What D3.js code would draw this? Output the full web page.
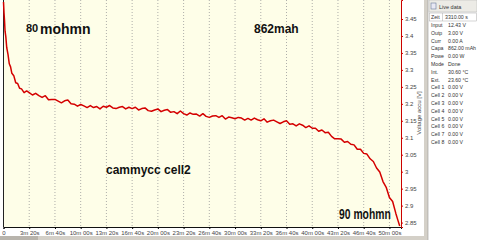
<!DOCTYPE html>
<html>
<head>
<meta charset="utf-8">
<script src="https://cdn.jsdelivr.net/npm/d3@7"></script>
<style>
  body { margin: 0; background: #fff; }
  svg { display: block; font-family: "Liberation Sans", Arial, sans-serif; }
</style>
</head>
<body>
<svg width="477" height="240"></svg>
<script>
// time in seconds, voltage in V
const times = [0, 4, 8, 12, 18, 25, 35, 45, 55, 65, 80, 95, 110, 125, 140, 160, 180, 200,
  225, 250, 275, 300, 325, 350, 375, 400, 425, 450, 475, 500, 525, 550, 575, 600, 625, 650, 675,
  700, 725, 750, 775, 800, 825, 850, 875, 900, 925, 950, 975, 1000, 1025, 1050, 1075, 1100,
  1125, 1150, 1175, 1200, 1225, 1250, 1275, 1300, 1325, 1350, 1375, 1400, 1425, 1450, 1475,
  1500, 1525, 1550, 1575, 1600, 1625, 1650, 1675, 1700, 1725, 1750, 1775, 1800, 1825, 1850,
  1875, 1900, 1925, 1950, 1975, 2000, 2025, 2050, 2075, 2100, 2125, 2150, 2175, 2200, 2225,
  2250, 2275, 2300, 2325, 2350, 2375, 2400, 2425, 2450, 2475, 2500, 2525, 2550, 2575, 2600,
  2625, 2650, 2675, 2700, 2725, 2750, 2775, 2800, 2825, 2850, 2875, 2900, 2925, 2950, 2975,
  3000, 3025, 3050, 3065, 3080];
const volts = [3.500, 3.468, 3.445, 3.414, 3.398, 3.366, 3.346, 3.318, 3.309, 3.290, 3.283, 3.262,
  3.260, 3.246, 3.244, 3.233, 3.238, 3.233,
  3.226, 3.231, 3.224, 3.219, 3.224, 3.212, 3.213, 3.213, 3.208, 3.203, 3.209, 3.211, 3.200,
  3.199, 3.193, 3.198, 3.194, 3.189, 3.195,
  3.189, 3.192, 3.185, 3.193, 3.190, 3.195, 3.188, 3.186, 3.190, 3.192, 3.185, 3.190, 3.186,
  3.190, 3.182, 3.186, 3.188,
  3.180, 3.178, 3.182, 3.185, 3.177, 3.181, 3.183, 3.175, 3.177, 3.171, 3.179, 3.171, 3.167,
  3.173, 3.169,
  3.170, 3.164, 3.171, 3.163, 3.160, 3.164, 3.165, 3.160, 3.165, 3.155, 3.161, 3.159, 3.156,
  3.160, 3.158,
  3.152, 3.157, 3.152, 3.158, 3.153, 3.150, 3.156, 3.146, 3.150, 3.152, 3.147, 3.142, 3.147,
  3.150, 3.140,
  3.141, 3.135, 3.141, 3.137, 3.130, 3.135, 3.128, 3.128, 3.119, 3.123, 3.115, 3.116, 3.104,
  3.097, 3.097,
  3.096, 3.087, 3.089, 3.081, 3.079, 3.066, 3.066, 3.054, 3.052, 3.038, 3.030, 3.011, 2.999,
  2.971, 2.954,
  2.924, 2.912, 2.877, 2.858, 2.840];

const timeTicks = [0, 200, 400, 600, 800, 1000, 1200, 1400, 1600, 1800, 2000, 2200, 2400, 2600, 2800, 3000];
const voltTicks = [2.85, 2.9, 2.95, 3, 3.05, 3.1, 3.15, 3.2, 3.25, 3.3, 3.35, 3.4, 3.45];

const liveLabels = ["Input", "Outp", "Curr", "Capa", "Powe", "Mode", "Int.", "Ext.",
  "Cell 1", "Cell 2", "Cell 3", "Cell 4", "Cell 5", "Cell 6", "Cell 7", "Cell 8"];
const liveValues = ["12.43 V", "3.00 V", "0.00 A", "862.00 mAh", "0.00 W", "Done", "30.60 °C", "23.60 °C",
  "0.00 V", "0.00 V", "0.00 V", "0.00 V", "0.00 V", "0.00 V", "0.00 V", "0.00 V"];

const svg = d3.select("svg");

const x = d3.scaleLinear().domain([0, 3090]).range([3.5, 401]);
const y = d3.scaleLinear().domain([2.837, 3.506]).range([227, 0]);

// plot background
svg.append("rect")
  .attr("x", x(0)).attr("y", 0)
  .attr("width", x(3090) - x(0)).attr("height", 227)
  .attr("fill", "#fefee8");

// vertical dotted grid
svg.selectAll(".grid")
  .data(timeTicks.slice(1))
  .enter().append("line")
  .attr("x1", d => x(d)).attr("x2", d => x(d))
  .attr("y1", 0).attr("y2", 227)
  .attr("stroke", "#999")
  .attr("stroke-width", 0.8)
  .attr("stroke-dasharray", "1,2");

function fmtTime(s) {
  if (s === 0) return "0";
  const m = Math.floor(s / 60), r = s % 60;
  return m + "m " + String(r).padStart(2, "0") + "s";
}

// bottom axis
const xAxis = svg.append("g")
  .attr("transform", "translate(0,227)")
  .call(d3.axisBottom(x).tickValues(timeTicks).tickFormat(fmtTime).tickSize(2).tickPadding(2));
xAxis.select(".domain").attr("stroke", "#111");
xAxis.selectAll("text").attr("font-size", 6).attr("fill", "#444").attr("font-family", "Liberation Sans, Arial");

// left axis line
svg.append("line")
  .attr("x1", x(0)).attr("x2", x(0)).attr("y1", 0).attr("y2", 227)
  .attr("stroke", "#222").attr("stroke-width", 1);

// right voltage axis
const yAxis = svg.append("g")
  .attr("transform", `translate(${x(3090)},0)`)
  .call(d3.axisRight(y).tickValues(voltTicks).tickFormat(d3.format("~g")).tickSize(2).tickPadding(2));
yAxis.select(".domain").attr("stroke", "#cc0000");
yAxis.selectAll(".tick line").attr("stroke", "#cc0000");
yAxis.selectAll("text").attr("font-size", 6).attr("fill", "#444").attr("font-family", "Liberation Sans, Arial");

svg.append("text")
  .attr("transform", "translate(421,113) rotate(-90)")
  .attr("text-anchor", "middle")
  .attr("font-size", 6).attr("fill", "#444")
  .text("Voltage accu [V]");

// curve
const line = d3.line()
  .x((d, i) => x(times[i]))
  .y(d => y(d));
svg.append("path")
  .datum(volts)
  .attr("d", line)
  .attr("fill", "none")
  .attr("stroke", "#d40000")
  .attr("stroke-width", 1.5)
  .attr("stroke-linejoin", "round");

// annotations
svg.append("text").attr("x", 26).attr("y", 32)
  .attr("font-size", 11).attr("font-weight", "bold").attr("fill", "#111").text("80");
svg.append("text").attr("x", 40).attr("y", 34)
  .attr("font-size", 14).attr("font-weight", "bold").attr("fill", "#111").text("mohmn");
svg.append("text").attr("x", 254).attr("y", 33)
  .attr("font-size", 12).attr("font-weight", "bold").attr("fill", "#111").text("862mah");
svg.append("text").attr("x", 106).attr("y", 174)
  .attr("font-size", 12).attr("font-weight", "bold").attr("fill", "#111").text("cammycc cell2");
svg.append("text").attr("transform", "translate(339,219) scale(0.74,1)")
  .attr("font-size", 14).attr("font-weight", "bold").attr("fill", "#111")
  .text("90 mohmn");

// bottom frame strip
svg.append("rect").attr("x", 0).attr("y", 236).attr("width", 428).attr("height", 4).attr("fill", "#d4d0c8");
svg.append("rect").attr("x", 0).attr("y", 236).attr("width", 38).attr("height", 4).attr("fill", "#b8b4ac");

// live data panel
svg.append("rect").attr("x", 424).attr("y", 0).attr("width", 4).attr("height", 240).attr("fill", "#d4d0c8");
svg.append("line").attr("x1", 428).attr("x2", 428).attr("y1", 0).attr("y2", 240).attr("stroke", "#999").attr("stroke-width", 0.6);

svg.append("rect").attr("x", 429).attr("y", 0).attr("width", 48).attr("height", 12)
  .attr("fill", "#ecebe6").attr("stroke", "#b0b0b0").attr("stroke-width", 0.5);
svg.append("rect").attr("x", 431).attr("y", 3).attr("width", 5).attr("height", 6)
  .attr("fill", "#e8e8f4").attr("stroke", "#6a7a9a").attr("stroke-width", 0.6);
svg.append("text").attr("x", 439).attr("y", 8.5)
  .attr("font-size", 5.5).attr("fill", "#333").text("Live data");

svg.append("rect").attr("x", 429.5).attr("y", 13).attr("width", 47).attr("height", 8)
  .attr("fill", "#fff").attr("stroke", "#aaa").attr("stroke-width", 0.5);
svg.append("line").attr("x1", 442.5).attr("x2", 442.5).attr("y1", 13).attr("y2", 21)
  .attr("stroke", "#aaa").attr("stroke-width", 0.5);
svg.append("text").attr("x", 431).attr("y", 19).attr("font-size", 5.2).attr("fill", "#333").text("Zeit");
svg.append("text").attr("x", 445).attr("y", 19).attr("font-size", 5.2).attr("fill", "#333").text("3310.00 s");

const rowY = d3.scaleLinear().domain([0, 1]).range([27, 34.8]);
svg.selectAll(".lbl")
  .data(liveLabels)
  .enter().append("text")
  .attr("x", 431).attr("y", (d, i) => rowY(i))
  .attr("font-size", 5.2).attr("fill", "#333")
  .text(d => d);
svg.selectAll(".val")
  .data(liveValues)
  .enter().append("text")
  .attr("x", 448).attr("y", (d, i) => rowY(i))
  .attr("font-size", 5.2).attr("fill", "#333")
  .text(d => d);
</script>
</body>
</html>
